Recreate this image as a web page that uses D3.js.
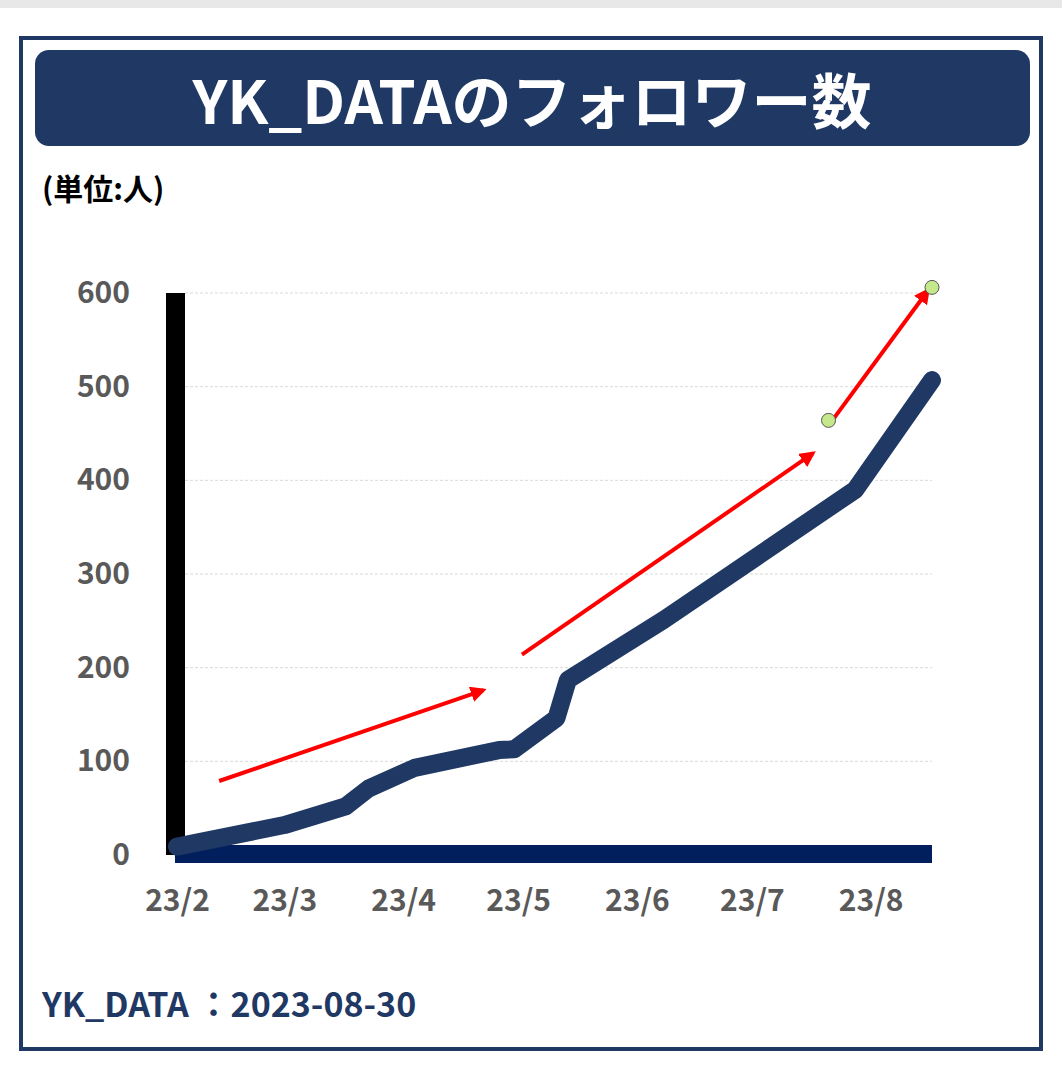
<!DOCTYPE html>
<html>
<head>
<meta charset="utf-8">
<script src="https://cdn.jsdelivr.net/npm/d3@7"></script>
<style>
  body { margin: 0; background: #fff; }
  text { font-family: "Noto Sans CJK JP", "Noto Sans", sans-serif; font-weight: bold; }
</style>
</head>
<body>
<svg id="chart" width="1062" height="1074"></svg>
<script>
const width = 1062
const height = 1074
const margin = { left: 177, right: 130, top: 293, bottom: 219 }

// follower counts
const dates = ["2023-02-01", "2023-03-01", "2023-03-17", "2023-03-23", "2023-04-04", "2023-04-26",
  "2023-04-30", "2023-05-11", "2023-05-14", "2023-06-08", "2023-07-28", "2023-08-17"]
const followers = [9, 32, 52, 71, 93, 112, 113, 146, 187, 251, 390, 507]

// trend arrows: [startDate, startValue, endDate, endValue]
const arrows = [
  ["2023-02-12", 79, "2023-04-22", 176],
  ["2023-05-02", 214, "2023-07-17", 429],
  ["2023-07-22", 464, "2023-08-16", 603]
]
const markerDates = ["2023-07-21", "2023-08-17"]
const markerValues = [464, 606]

const xTicks = ["2023-02-01", "2023-03-01", "2023-04-01", "2023-05-01", "2023-06-01", "2023-07-01", "2023-08-01"]
const xTickLabels = ["23/2", "23/3", "23/4", "23/5", "23/6", "23/7", "23/8"]
const yTicks = [0, 100, 200, 300, 400, 500, 600]

const parse = d3.timeParse("%Y-%m-%d")
const svg = d3.select("#chart")

svg.append("rect").attr("x", 0).attr("y", 0).attr("width", width).attr("height", 8).attr("fill", "#e8e8e8")
svg.append("rect").attr("x", 21).attr("y", 38).attr("width", 1020).attr("height", 1011)
  .attr("fill", "#fff").attr("stroke", "#1f3864").attr("stroke-width", 4)
svg.append("rect").attr("x", 35).attr("y", 50).attr("width", 995).attr("height", 96).attr("rx", 14)
  .attr("fill", "#1f3864")
svg.append("text").attr("x", 532).attr("y", 124).attr("text-anchor", "middle")
  .attr("fill", "#fff").attr("font-size", 60).text("YK_DATAのフォロワー数")
svg.append("text").attr("x", 42).attr("y", 200).attr("font-size", 30).attr("fill", "#000").text("(単位:人)")
svg.append("text").attr("x", 42).attr("y", 1017).attr("font-size", 34).attr("fill", "#1f3864").text("YK_DATA ：2023-08-30")

const x = d3.scaleTime()
  .domain([parse(dates[0]), parse(dates[dates.length - 1])])
  .range([margin.left, width - margin.right])
const y = d3.scaleLinear().domain([0, 600]).range([height - margin.bottom - 0, margin.top])
y.range([855, 293])

// gridlines
svg.append("g").selectAll("line").data(yTicks.slice(1)).join("line")
  .attr("x1", 185).attr("x2", 932).attr("y1", d => y(d)).attr("y2", d => y(d))
  .attr("stroke", "#d9d9d9").attr("stroke-dasharray", "3,2")

// y axis
const yAxis = d3.axisLeft(y).tickValues(yTicks).tickSize(0).tickPadding(0)
const yg = svg.append("g").attr("transform", "translate(130,0)").call(yAxis)
yg.select(".domain").remove()
yg.selectAll("text").attr("font-size", 30).attr("fill", "#595959").attr("font-family", "Liberation Sans, sans-serif").attr("font-weight", "bold")
svg.append("rect").attr("x", 166).attr("y", y(600)).attr("width", 19).attr("height", y(0) - y(600)).attr("fill", "#000")

// x axis
const xAxis = d3.axisBottom(x).tickValues(xTicks.map(parse)).tickFormat((d, i) => xTickLabels[i]).tickSize(0).tickPadding(0)
const xg = svg.append("g").attr("transform", "translate(0,890)").call(xAxis)
xg.select(".domain").remove()
xg.selectAll("text").attr("font-size", 30).attr("fill", "#595959").attr("font-family", "Liberation Sans, sans-serif").attr("font-weight", "bold")
svg.append("rect").attr("x", 175).attr("y", 845).attr("width", 757).attr("height", 18).attr("fill", "#001f5c")

// line
const data = dates.map((d, i) => ({ date: parse(d), value: followers[i] }))
const line = d3.line().x(d => x(d.date)).y(d => y(d.value))
svg.append("path").attr("d", line(data)).attr("fill", "none")
  .attr("stroke", "#1f3864").attr("stroke-width", 18).attr("stroke-linejoin", "round").attr("stroke-linecap", "round")

// arrows
svg.append("defs").append("marker").attr("id", "ah").attr("viewBox", "0 0 10 10")
  .attr("refX", 8).attr("refY", 5).attr("markerWidth", 4).attr("markerHeight", 4).attr("orient", "auto")
  .append("path").attr("d", "M0,0L10,5L0,10Z").attr("fill", "#ff0000")
svg.append("g").selectAll("line").data(arrows).join("line")
  .attr("x1", d => x(parse(d[0]))).attr("y1", d => y(d[1]))
  .attr("x2", d => x(parse(d[2]))).attr("y2", d => y(d[3]))
  .attr("stroke", "#ff0000").attr("stroke-width", 4).attr("marker-end", "url(#ah)")

svg.append("g").selectAll("circle").data(markerDates).join("circle")
  .attr("cx", d => x(parse(d))).attr("cy", (d, i) => y(markerValues[i])).attr("r", 7)
  .attr("fill", "#c5e88a").attr("stroke", "#555").attr("stroke-width", 1)
</script>
</body>
</html>
